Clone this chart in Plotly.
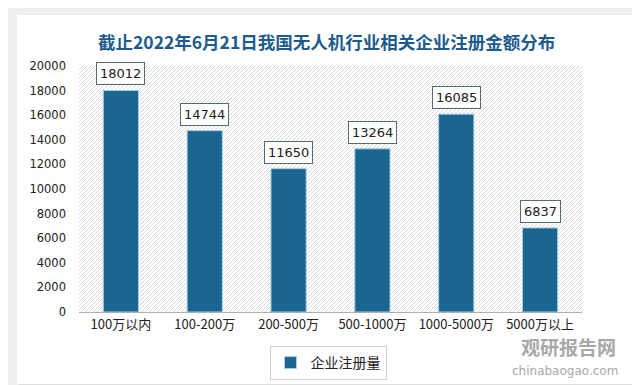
import plotly.graph_objects as go

# ---- data ----
categories = ["100万以内", "100-200万", "200-500万", "500-1000万", "1000-5000万", "5000万以上"]
values = [18012, 14744, 11650, 13264, 16085, 6837]
series_name = "企业注册量"
title_text = "截止2022年6月21日我国无人机行业相关企业注册金额分布"
y_ticks = [0, 2000, 4000, 6000, 8000, 10000, 12000, 14000, 16000, 18000, 20000]

W, H = 640, 385
ML, MR, MT, MB = 71, 66, 58, 81
PW, PH = W - ML - MR, H - MT - MB

def px_to_paper(px, py):
    return (px - ML) / PW, (H - MB - py) / PH

fig = go.Figure()
fig.add_trace(go.Bar(
    x=categories, y=values, name=series_name,
    marker=dict(color="#1b6591", line=dict(color="#a9cfe0", width=1)),
    width=0.42,
))

shapes = []
# card background
x0, y1 = px_to_paper(9, 7)
x1, y0 = px_to_paper(629, 376)
shapes.append(dict(type="rect", xref="paper", yref="paper", x0=x0 + 0.004, x1=x1 + 0.004,
                   y0=y0 - 0.01, y1=y1 - 0.01, line=dict(width=0), fillcolor="#dedede", layer="below"))
shapes.append(dict(type="rect", xref="paper", yref="paper", x0=x0, x1=x1, y0=y0, y1=y1,
                   line=dict(width=0), fillcolor="white", layer="below"))
# hatch pattern in plot area
step = 4
c = -PH
while c < PW:
    xa = max(0, c)
    xb = min(PW, PH + c)
    if xb > xa:
        shapes.append(dict(type="line", xref="paper", yref="paper",
                           x0=xa / PW, y0=(xa - c) / PH, x1=xb / PW, y1=(xb - c) / PH,
                           line=dict(color="#d9d9d9", width=1), layer="below"))
    c += step

annotations = []
for cat, v in zip(categories, values):
    annotations.append(dict(x=cat, y=v, xref="x", yref="y", text=str(v), showarrow=False,
                            yanchor="bottom", yshift=5, bgcolor="white", bordercolor="#5a6a74",
                            borderwidth=1, borderpad=3,
                            font=dict(family="DejaVu Sans", size=13, color="#222")))
# title
tx, ty = px_to_paper(318, 33)
annotations.append(dict(x=tx, y=ty, xref="paper", yref="paper", text="<b>" + title_text + "</b>",
                        showarrow=False, xanchor="center", yanchor="middle",
                        font=dict(family="Noto Sans CJK SC", size=17.5, color="#1d5b8c")))
# watermark
wx, wy = px_to_paper(560, 338)
annotations.append(dict(x=wx, y=wy, xref="paper", yref="paper", text="<b>观研报告网</b>",
                        showarrow=False, xanchor="center", yanchor="middle",
                        font=dict(family="Noto Sans CJK SC", size=19, color="#a8a8a8")))
wx2, wy2 = px_to_paper(557, 363)
annotations.append(dict(x=wx2, y=wy2, xref="paper", yref="paper", text="chinabaogao.com",
                        showarrow=False, xanchor="center", yanchor="middle",
                        font=dict(family="DejaVu Sans", size=12, color="#a8a8a8")))

lx, ly = px_to_paper(320, 355)
fig.update_layout(
    width=W, height=H,
    margin=dict(l=ML, r=MR, t=MT, b=MB),
    paper_bgcolor="#efefef",
    plot_bgcolor="rgba(0,0,0,0)",
    showlegend=True,
    legend=dict(x=lx, y=ly, xanchor="center", yanchor="middle", orientation="h",
                bgcolor="white", bordercolor="#d0d0d0", borderwidth=1,
                itemwidth=30,
                font=dict(family="Noto Sans CJK SC", size=14, color="#222")),
    shapes=shapes,
    annotations=annotations,
    bargap=0.58,
)
fig.update_xaxes(showgrid=False, showline=True, linecolor="#b0b0b0", linewidth=1,
                 ticks="", tickfont=dict(family="Noto Sans CJK SC", size=13, color="#222"))
fig.update_yaxes(range=[0, 20000], tickvals=y_ticks, tickformat="d", showgrid=False, zeroline=False,
                 showline=False, ticks="", ticklabelstandoff=12,
                 tickfont=dict(family="DejaVu Sans", size=11.5, color="#222"))

fig.write_html("out.html")
